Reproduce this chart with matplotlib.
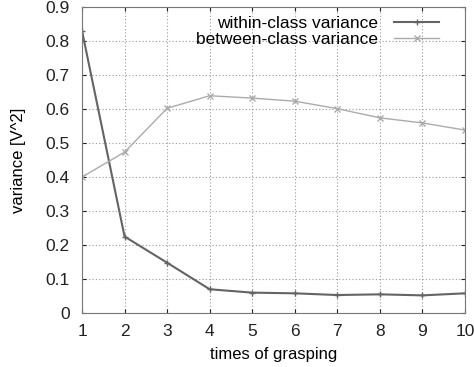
import numpy as np
import matplotlib
matplotlib.use("Agg")
import matplotlib.pyplot as plt

plt.rcParams["font.family"] = ["Liberation Sans", "DejaVu Sans"]

times = [1, 2, 3, 4, 5, 6, 7, 8, 9, 10]
within_var = [0.83, 0.225, 0.148, 0.07, 0.06, 0.058, 0.053, 0.055, 0.052, 0.058]
between_var = [0.40, 0.473, 0.602, 0.639, 0.632, 0.623, 0.601, 0.574, 0.559, 0.538]

fig = plt.figure(figsize=(4.74, 3.67), dpi=100)
ax = fig.add_axes([0.173, 0.147, 0.808, 0.834])

ax.plot(times, within_var, color="#646464", lw=1.5, marker="+", ms=5,
        label="within-class variance")
ax.plot(times, between_var, color="#ababab", lw=1.0, marker="x", ms=4,
        label="between-class variance")

ax.set_xlim(1, 10)
ax.set_ylim(0, 0.9)
ax.set_xticks(times)
ax.set_yticks(np.arange(0, 0.91, 0.1))
ax.set_yticklabels(["0"] + ["%.1f" % v for v in np.arange(0.1, 0.91, 0.1)])
ax.grid(True, color="#999999", ls=(0, (1, 2)), lw=0.8)
ax.tick_params(direction="in", length=3, labelsize=12.5, colors="#222222",
               top=True, right=True)
ax.tick_params(axis="y", pad=9)
ax.tick_params(axis="x", pad=8)
for s in ax.spines.values():
    s.set_color("#777777")

ax.set_xlabel("times of grasping", fontsize=12, labelpad=6)
ax.set_ylabel("variance [V^2]", fontsize=12, labelpad=14)

leg = ax.legend(loc="upper right", bbox_to_anchor=(0.955, 1.0), frameon=False,
                markerfirst=False, fontsize=12.5, handlelength=2.6,
                borderaxespad=0.1, labelspacing=0.05, handletextpad=0.9)
for t in leg.get_texts():
    t.set_ha("right")

fig.savefig("out.png", dpi=100)
